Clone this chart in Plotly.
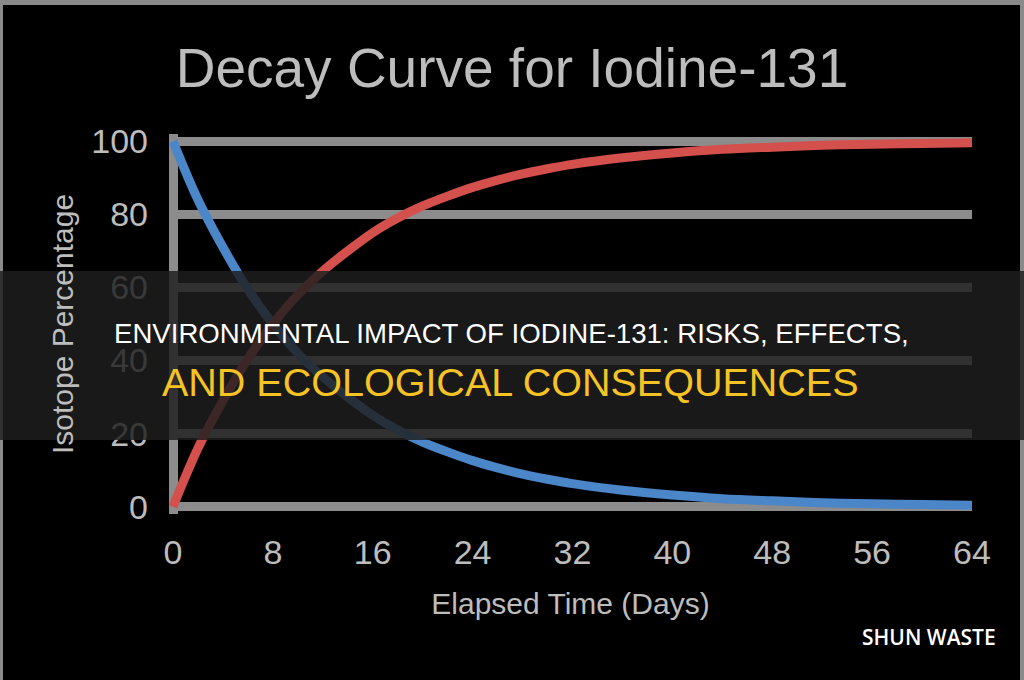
import plotly.graph_objects as go

# Data
days = [0, 2, 4, 6, 8, 10, 12, 14, 16, 18, 20, 22, 24, 26, 28, 30, 32, 36, 40, 44, 48, 52, 56, 60, 64]
iodine = [100, 84, 71, 59.5, 50, 42, 35.5, 30, 25, 21, 17.7, 15, 12.6, 10.6, 8.9, 7.5, 6.3, 4.5, 3.2, 2.2, 1.6, 1.1, 0.8, 0.6, 0.4]
xenon = [0, 16, 29, 40.5, 50, 58, 64.5, 70, 75, 79, 82.3, 85, 87.4, 89.4, 91.1, 92.5, 93.7, 95.5, 96.8, 97.8, 98.4, 98.9, 99.2, 99.4, 99.6]
x_ticks = [0, 8, 16, 24, 32, 40, 48, 56, 64]
y_ticks = [0, 20, 40, 60, 80, 100]
series_names = ["Iodine-131", "Xenon-131"]

title_text = "Decay Curve for Iodine-131"
x_title = "Elapsed Time (Days)"
y_title = "Isotope Percentage"
banner_line1 = "ENVIRONMENTAL IMPACT OF IODINE-131: RISKS, EFFECTS,"
banner_line2 = "AND ECOLOGICAL CONSEQUENCES"
brand = "SHUN WASTE"

W, H = 1024, 680
ML, MR, MT, MB = 169, 52, 134, 166
PW = W - ML - MR
PH = H - MT - MB


def px_x(p):
    return (p - ML) / PW


def px_y(p):
    return (H - MB - p) / PH


TXT = "#bdbdbd"
GRID = "#8c8c8c"
FONT = "Liberation Sans, Arial, sans-serif"

fig = go.Figure()
fig.add_trace(go.Scatter(x=days, y=iodine, mode="lines", name=series_names[0],
                         line=dict(color="#4a86c8", width=9, shape="spline")))
fig.add_trace(go.Scatter(x=days, y=xenon, mode="lines", name=series_names[1],
                         line=dict(color="#d4504d", width=9, shape="spline")))

shapes = [
    # gray frame strips (top, left, right)
    dict(type="rect", xref="paper", yref="paper", x0=px_x(0), x1=px_x(W), y0=px_y(0), y1=px_y(5),
         fillcolor="#8a8a8a", line=dict(width=0), layer="below"),
    dict(type="rect", xref="paper", yref="paper", x0=px_x(0), x1=px_x(3), y0=px_y(0), y1=px_y(H),
         fillcolor="#8a8a8a", line=dict(width=0), layer="below"),
    dict(type="rect", xref="paper", yref="paper", x0=px_x(1020), x1=px_x(W), y0=px_y(0), y1=px_y(H),
         fillcolor="#8a8a8a", line=dict(width=0), layer="below"),
    # translucent banner
    dict(type="rect", xref="paper", yref="paper", x0=px_x(0), x1=px_x(W), y0=px_y(271), y1=px_y(440),
         fillcolor="rgba(30,30,30,0.83)", line=dict(width=0), layer="above"),
]

annotations = [
    dict(text=banner_line1, xref="paper", yref="paper", x=px_x(511), y=px_y(333),
         showarrow=False, xanchor="center", yanchor="middle",
         font=dict(family=FONT, size=27.6, color="#ffffff")),
    dict(text=banner_line2, xref="paper", yref="paper", x=px_x(510), y=px_y(382),
         showarrow=False, xanchor="center", yanchor="middle",
         font=dict(family=FONT, size=39.5, color="#f6c324")),
    dict(text=brand, xref="paper", yref="paper", x=px_x(998), y=px_y(637),
         showarrow=False, xanchor="right", yanchor="middle",
         font=dict(family="Open Sans, sans-serif", size=21, color="#ffffff", weight=600)),
]

fig.update_layout(
    width=W, height=H,
    margin=dict(l=ML, r=MR, t=MT, b=MB, autoexpand=False),
    paper_bgcolor="#000000",
    plot_bgcolor="#000000",
    title=dict(text=title_text, xref="container", yref="container", x=0.5, y=1 - 68 / H,
               xanchor="center", yanchor="middle",
               font=dict(family=FONT, size=55, color=TXT)),
    xaxis=dict(range=[-0.32, 64], tickvals=x_ticks, ticktext=[str(v) for v in x_ticks],
               showgrid=False, zeroline=True, zerolinecolor=GRID, zerolinewidth=9,
               showline=False, ticks="", ticklabelstandoff=15,
               tickfont=dict(family=FONT, size=34, color=TXT),
               title=dict(text=x_title, standoff=22, font=dict(family=FONT, size=30, color=TXT)),
               automargin=False, fixedrange=True),
    yaxis=dict(range=[-2, 102], tickvals=y_ticks, ticktext=[str(v) for v in y_ticks],
               showgrid=True, gridcolor=GRID, gridwidth=9, zeroline=False,
               showline=False, ticks="", ticklabelstandoff=20,
               tickfont=dict(family=FONT, size=34, color=TXT),
               title=dict(text=y_title, standoff=8, font=dict(family=FONT, size=30, color=TXT)),
               automargin=False, fixedrange=True),
    showlegend=True,
    legend=dict(orientation="h", x=0.5, xanchor="center", y=px_y(671), yanchor="top",
                font=dict(family=FONT, size=30, color=TXT), bgcolor="rgba(0,0,0,0)"),
    shapes=shapes,
    annotations=annotations,
)

fig.write_html("out.html")
